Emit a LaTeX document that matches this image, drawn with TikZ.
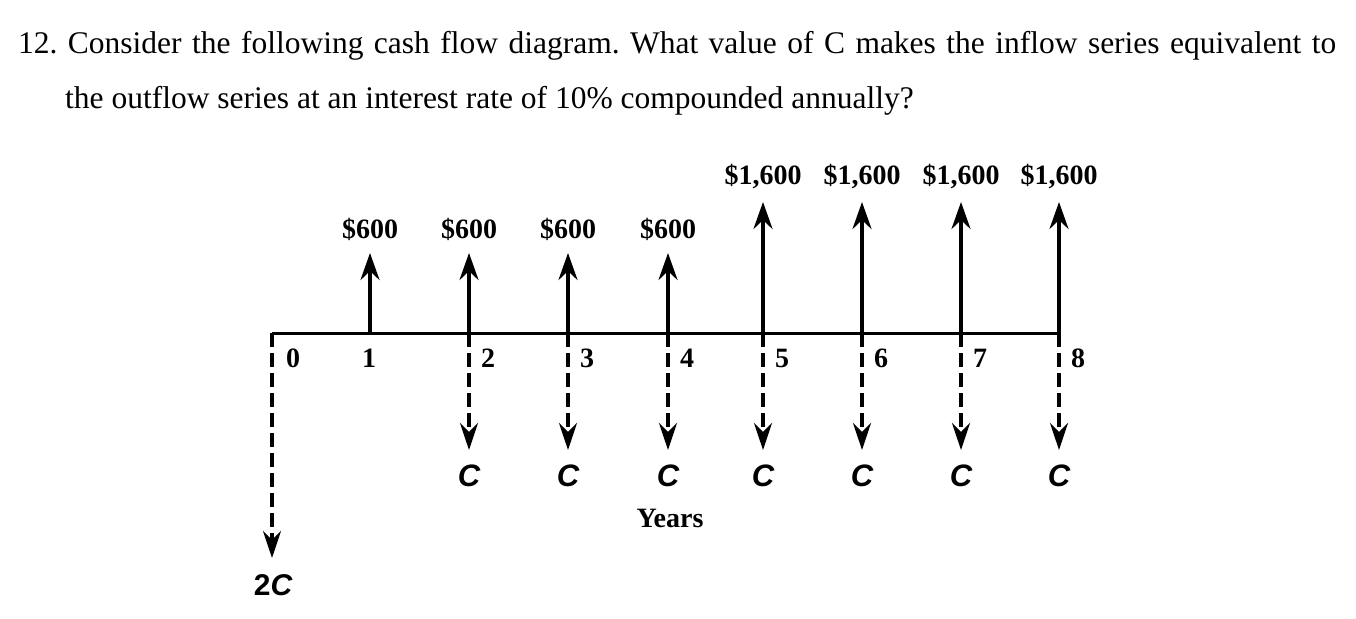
\documentclass[tikz,border=0pt]{standalone}
\usepackage{fontspec}
\setmainfont{Liberation Serif}
\newfontfamily\sansf{Liberation Sans}
\usetikzlibrary{arrows.meta}
\begin{document}
\frenchspacing
\begin{tikzpicture}[x=1pt,y=-1pt,
  qtext/.style={inner sep=0pt,anchor=base west,font=\fontsize{31.5}{36}\selectfont},
  amt/.style={inner sep=0pt,anchor=base,font=\fontsize{28}{30}\selectfont\bfseries},
  yr/.style={inner sep=0pt,anchor=base west,font=\fontsize{28}{30}\selectfont\bfseries},
  clab/.style={inner sep=0pt,anchor=base,font=\fontsize{31}{30}\selectfont\sansf\bfseries\itshape},
  axisline/.style={line width=3pt},
  inflow/.style={line width=4pt,-{Stealth[length=27pt,width=19pt,inset=9pt]}},
  outflow/.style={line width=3.5pt,dash pattern=on 14pt off 6pt,-{Stealth[length=27pt,width=18pt,inset=9pt]}}]
\useasboundingbox (0,0) rectangle (1356,618);
% question
\node[qtext] (q1) at (18,53) {\makebox[1318pt][s]{12. Consider the following cash flow diagram. What value of C makes the inflow series equivalent to}};
\node[qtext] (q2) at (65,108) {the outflow series at an interest rate of 10\% compounded annually?};
% ticks
\foreach \i/\x in {0/272,1/370,2/469,3/568,4/668,5/763,6/862,7/961,8/1059}{
  \coordinate (t\i) at (\x,333);
}
\draw[axisline] (t0) -- (t8);
% year labels
\node[yr] (n0) at (286,367) {0};
\node[amt] (n1) at (369,367) {1};
\foreach \i in {2,...,8}{
  \path (t\i) ++(12,34) node[yr] (n\i) {\i};
}
% inflows $600
\foreach \i in {1,...,4}{
  \path (t\i) ++(0,-80) coordinate (u\i);
  \path (t\i) ++(0,-95) node[amt] (a\i) {\$600};
  \draw[inflow] (t\i) -- (u\i);
}
% inflows $1,600
\foreach \i in {5,...,8}{
  \path (t\i) ++(0,-131) coordinate (u\i);
  \path (t\i) ++(0,-149) node[amt] (a\i) {\$1,600};
  \draw[inflow] (t\i) -- (u\i);
}
% outflows C
\foreach \i in {2,...,8}{
  \path (t\i) ++(0,117) coordinate (d\i);
  \path (t\i) ++(0,153) node[clab] (c\i) {C};
  \draw[outflow] (t\i) -- (d\i);
}
% outflow 2C
\path (t0) ++(0,225) coordinate (d0);
\node[inner sep=0pt,anchor=base,font=\fontsize{30}{30}\selectfont\sansf\bfseries] (c0) at (273,595) {2{\itshape C}};
\draw[outflow] (t0) -- (d0);
% Years
\node[inner sep=0pt,anchor=base,font=\fontsize{28}{30}\selectfont\bfseries] (yrs) at (670,527) {Years};
\end{tikzpicture}
\end{document}
